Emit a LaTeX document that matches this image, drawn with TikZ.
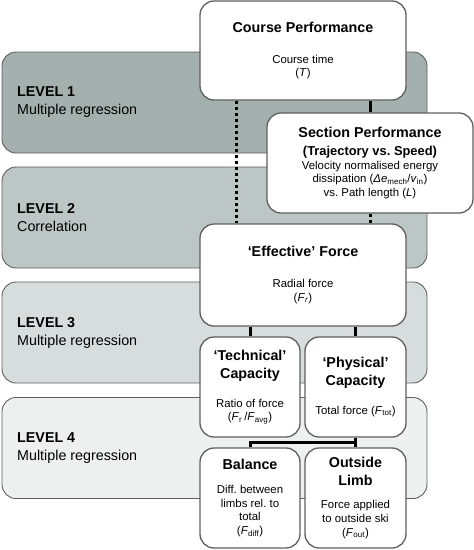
\documentclass[tikz,border=0pt]{standalone}
\usepackage{fontspec}
\setmainfont{Liberation Sans}
\usetikzlibrary{calc}
\frenchspacing

\definecolor{nivelA}{RGB}{164,176,173}
\definecolor{nivelB}{RGB}{188,198,196}
\definecolor{nivelC}{RGB}{214,221,220}
\definecolor{nivelD}{RGB}{238,239,239}
\definecolor{borde}{RGB}{95,95,95}

\newcommand{\txttit}{\fontsize{14.3}{18}\selectfont\bfseries}
\newcommand{\txtsub}{\fontsize{12.9}{15}\selectfont\bfseries}
\newcommand{\txtdesc}{\fontsize{11.4}{13.7}\selectfont}
\newcommand{\txtniv}{\fontsize{14.3}{18}\selectfont}

\begin{document}
\begin{tikzpicture}[x=1pt, y=-1pt,
    nivel/.style={draw=borde, line width=0.9pt, rounded corners=14pt,
        minimum width=425pt, minimum height=101pt, inner sep=0pt},
    nivtxt/.style={anchor=west, align=left, inner sep=0pt, font=\txtniv},
    caja/.style={draw=borde, fill=white, line width=1.3pt, rounded corners=14pt,
        align=center, inner sep=0pt, font=\txtdesc},
    conector/.style={line width=3pt},
    punteado/.style={line width=3pt, dash pattern=on 3pt off 3pt}]
    \useasboundingbox (0,0) rectangle (474,550);

    % Niveles
    \node[nivel, fill=nivelA] (niv1) at (214.5,102.5) {};
    \node[nivel, fill=nivelB] (niv2) at (214.5,217.5) {};
    \node[nivel, fill=nivelC] (niv3) at (214.5,332.5) {};
    \node[nivel, fill=nivelD] (niv4) at (214.5,448) {};
    \node[nivtxt] (niv1txt) at (17,102) {{\bfseries LEVEL 1}\\Multiple regression};
    \node[nivtxt] (niv2txt) at (17,217.5) {{\bfseries LEVEL 2}\\Correlation};
    \node[nivtxt] (niv3txt) at (17,332.5) {{\bfseries LEVEL 3}\\Multiple regression};
    \node[nivtxt] (niv4txt) at (17,448) {{\bfseries LEVEL 4}\\Multiple regression};

    % Cajas
    \node[caja, minimum width=206pt, minimum height=99pt] (course) at (303,50.5)
        {{\txttit Course Performance}\\[17pt]Course time\\(\textit{T})};
    \node[caja, minimum width=206pt, minimum height=100pt] (sec) at (370,163)
        {{\txttit Section Performance}\\[4pt]{\txtsub (Trajectory vs. Speed)}\\
         Velocity normalised energy\\
         dissipation (\textit{Δe}\textsubscript{mech}/\textit{v}\textsubscript{in})\\
         vs. Path length (\textit{L})};
    \node[caja, minimum width=206pt, minimum height=102pt] (eff) at (303,275)
        {{\txttit ‘Effective’ Force}\\[17pt]Radial force\\(\textit{F}\textsubscript{\textit{r}})};
    \node[caja, minimum width=100pt, minimum height=100pt] (tech) at (250,387)
        {{\txttit ‘Technical’}\\[4.3pt]{\txttit Capacity}\\[15pt]Ratio of force\\
         (\textit{F}\textsubscript{r}\,/\textit{F}\textsubscript{avg})};
    \node[caja, minimum width=101pt, minimum height=100pt] (phys) at (355.5,387)
        {{\txttit ‘Physical’}\\[4.3pt]{\txttit Capacity}\\[15pt]Total force (\textit{F}\textsubscript{tot})};
    \node[caja, minimum width=100pt, minimum height=100pt] (bal) at (250,498)
        {{\txttit Balance}\\[10pt]Diff. between\\limbs rel. to\\total\\(\textit{F}\textsubscript{diff})};
    \node[caja, minimum width=101pt, minimum height=100pt] (out) at (355.5,498)
        {{\txttit Outside}\\[4.3pt]{\txttit Limb}\\[9.5pt]Force applied\\to outside ski\\(\textit{F}\textsubscript{out})};

    % Conectores
    \coordinate (guia) at (236,0);
    \draw[punteado] (course.south -| guia) -- (eff.north -| guia);
    \draw[conector] (course.south -| sec.north) -- (sec.north);
    \draw[punteado] (sec.south) -- (eff.north -| sec.south);
    \draw[conector] (eff.south -| tech.north) -- (tech.north);
    \draw[conector] (eff.south -| phys.north) -- (phys.north);
    \coordinate (barra) at ($(phys.south)!.5!(out.north)$);
    \draw[conector] (phys.south) -- (out.north);
    \draw[conector] (bal.north) |- (barra);
\end{tikzpicture}
\end{document}
